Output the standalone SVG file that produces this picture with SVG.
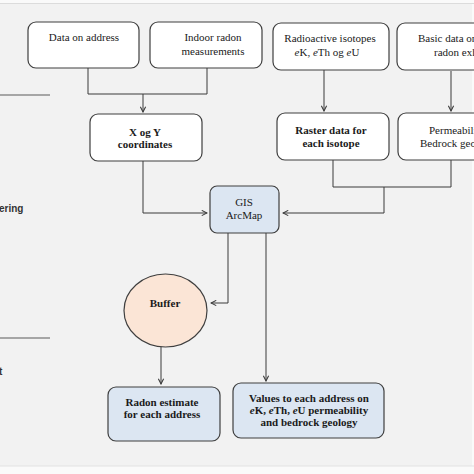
<svg xmlns="http://www.w3.org/2000/svg" width="474" height="474" viewBox="0 0 474 474">
<style>
.bg{fill:#f2f2f2}
.box{fill:#ffffff;stroke:#3f3f3f;stroke-width:1.2}
.blue{fill:#dce6f2;stroke:#3f3f3f;stroke-width:1.2}
.peach{fill:#fbe5d6;stroke:#3f3f3f;stroke-width:1.2}
.t{font-family:"Liberation Serif","Times New Roman",serif;font-size:11px;fill:#1a1a1a;text-anchor:middle}
.b{font-weight:bold}
.conn{fill:none;stroke:#3a3a3a;stroke-width:1}
.side{stroke:#8c8c8c;stroke-width:1.5}
.st{font-family:"Liberation Sans",Arial,sans-serif;font-size:10px;font-weight:bold;fill:#333}
</style>
<defs>
<marker id="arr" viewBox="0 0 8 8" refX="7" refY="4" markerWidth="7" markerHeight="7" orient="auto" markerUnits="userSpaceOnUse">
<path d="M1,1 L7,4 L1,7" fill="none" stroke="#3a3a3a" stroke-width="1.2"/>
</marker>
</defs>
<rect x="0" y="0" width="474" height="474" fill="#fafafa"/>
<rect class="bg" x="0" y="3" width="472" height="463"/>
<line x1="0" y1="3.5" x2="474" y2="3.5" stroke="#dcdcdc" stroke-width="1"/>
<line x1="0" y1="466" x2="474" y2="466" stroke="#e2e2e2" stroke-width="1"/>

<g id="side">
<line class="side" x1="0" y1="95" x2="50" y2="95"/>
<line class="side" x1="0" y1="338" x2="50" y2="338"/>
<text class="st" x="-1" y="212">ering</text>
<text class="st" x="-1" y="375">t</text>
</g>

<g id="connectors">
<path class="conn" d="M88,68 V94 H207 V68"/>
<path class="conn" d="M143,94 V112" marker-end="url(#arr)"/>
<path class="conn" d="M324,70 V111" marker-end="url(#arr)"/>
<path class="conn" d="M451,71 V111" marker-end="url(#arr)"/>
<path class="conn" d="M333,160 V187 H451 V160"/>
<path class="conn" d="M384,187 V213 H283" marker-end="url(#arr)"/>
<path class="conn" d="M143,161 V213 H207" marker-end="url(#arr)"/>
<path class="conn" d="M228,233 V303 H211" marker-end="url(#arr)"/>
<path class="conn" d="M266,233 V381" marker-end="url(#arr)"/>
<path class="conn" d="M161,347 V384" marker-end="url(#arr)"/>
</g>

<g id="data-address">
<rect class="box" x="28" y="22" width="111" height="46" rx="8"/>
<text class="t" x="84" y="41">Data on address</text>
</g>
<g id="indoor-radon">
<rect class="box" x="150" y="22" width="112" height="46" rx="8"/>
<text class="t" x="213" y="41">Indoor radon</text>
<text class="t" x="213" y="55">measurements</text>
</g>
<g id="radioactive">
<rect class="box" x="273" y="23" width="116" height="47" rx="8"/>
<text class="t" x="330" y="42">Radioactive isotopes</text>
<text class="t" x="327" y="56"><tspan font-style="italic">e</tspan>K, <tspan font-style="italic">e</tspan>Th og <tspan font-style="italic">e</tspan>U</text>
</g>
<g id="basic-data">
<rect class="box" x="397" y="23" width="100" height="47" rx="8"/>
<text class="t" x="418" y="42" style="text-anchor:start">Basic data on</text>
<text class="t" x="434" y="56" style="text-anchor:start">radon exhalation</text>
</g>
<g id="xy">
<rect class="box" x="90" y="114" width="112" height="47" rx="8"/>
<text class="t b" x="145" y="136">X og Y</text>
<text class="t b" x="145" y="148">coordinates</text>
</g>
<g id="raster">
<rect class="box" x="277" y="113" width="112" height="47" rx="8"/>
<text class="t b" x="331" y="134">Raster data for</text>
<text class="t b" x="331" y="147">each isotope</text>
</g>
<g id="permeability">
<rect class="box" x="398" y="113" width="100" height="47" rx="8"/>
<text class="t" x="429" y="134" style="text-anchor:start">Permeability</text>
<text class="t" x="420" y="147" style="text-anchor:start">Bedrock geology</text>
</g>
<g id="gis">
<rect class="blue" x="210" y="186" width="69" height="47" rx="7"/>
<text class="t" x="244" y="206">GIS</text>
<text class="t" x="244" y="219">ArcMap</text>
</g>
<g id="buffer">
<ellipse class="peach" cx="165.5" cy="310.5" rx="41.5" ry="36.5"/>
<text class="t b" x="165" y="307">Buffer</text>
</g>
<g id="radon-estimate">
<rect class="blue" x="108" y="387" width="112" height="54" rx="8"/>
<text class="t b" x="162" y="406">Radon estimate</text>
<text class="t b" x="162" y="418">for each address</text>
</g>
<g id="values">
<rect class="blue" x="233" y="383" width="151" height="55" rx="8"/>
<text class="t b" x="309" y="402">Values to each address on</text>
<text class="t b" x="309" y="414"><tspan font-style="italic">e</tspan>K, <tspan font-style="italic">e</tspan>Th, <tspan font-style="italic">e</tspan>U permeability</text>
<text class="t b" x="309" y="426">and bedrock geology</text>
</g>
</svg>
